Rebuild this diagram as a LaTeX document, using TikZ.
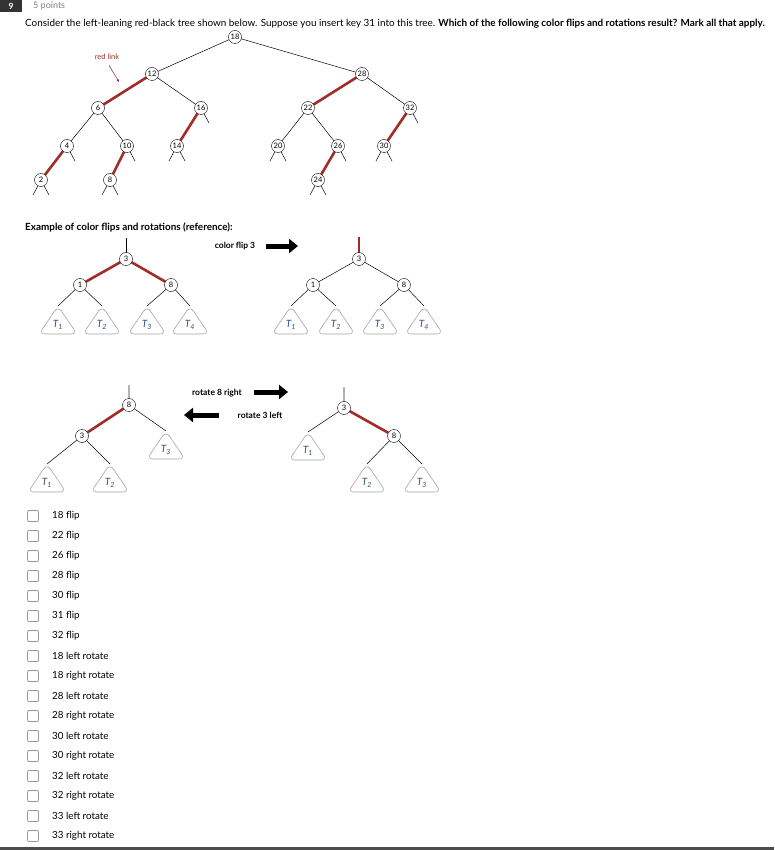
\documentclass[tikz,border=0pt]{standalone}
\usepackage{fontspec}
\setmainfont{Lato}
\usetikzlibrary{arrows.meta}
\definecolor{redlink}{RGB}{160,45,40}
\definecolor{tblue}{RGB}{40,80,130}
\tikzset{
  nd/.style={circle,draw,fill=white,inner sep=0pt,minimum size=13pt,font=\fontsize{7.5}{8}\selectfont},
  blk/.style={draw=black,line width=0.5pt},
  red/.style={draw=redlink,line width=2.6pt},
  gry/.style={draw=gray!60,line width=2pt},
  tri/.style={draw=gray!70,line width=0.6pt,rounded corners=6pt,fill=white},
  tl/.style={font=\fontsize{10}{11}\selectfont\itshape\color{tblue}},
  cb/.style={draw=gray!80,line width=0.6pt,rounded corners=1pt,minimum size=11pt,inner sep=0pt},
  opt/.style={anchor=west,font=\fontsize{9.8}{11}\selectfont,inner sep=0pt},
  lab/.style={font=\fontsize{8.5}{10}\selectfont\bfseries},
  bigarrow/.style={-{Triangle[length=9pt,width=14pt]},line width=5pt}
}
\newcommand{\subtree}[4]{% name, x, y, label
  \coordinate (#1) at (#2,#3-16);
  \draw[tri] (#2,#3-16) -- (#2+19,#3+12) -- (#2-19,#3+12) -- cycle;
  \node[tl] (#1l) at (#2,#3+3) {#4};}
\begin{document}
\begin{tikzpicture}[x=1pt,y=-1pt]
\useasboundingbox (0,0) rectangle (774,850);
\fill[white] (0,0) rectangle (774,850);
% header
\fill[black!80] (0,0) rectangle (22,12);
\node[white,font=\fontsize{8.5}{9}\selectfont\bfseries] (qn) at (11,6) {9};
\node[anchor=west,gray,font=\fontsize{9}{10}\selectfont,inner sep=0pt] (pts) at (33,6) {5 points};
\node[anchor=west,font=\fontsize{9.9}{11}\selectfont,inner sep=0pt] (q) at (25,24) {Consider the left-leaning red-black tree shown below. Suppose you insert key 31 into this tree. \textbf{Which of the following color flips and rotations result? Mark all that apply.}};
% main tree
\foreach \n/\x/\y in {18/235/37,12/152/74,28/362/74,6/98/108,16/201/108,22/308/108,32/410/108,4/67/146,10/127/146,14/177/146,20/278/146,26/338/146,30/384/146,2/41/180,8/110/180,24/318/180}
  \coordinate (p\n) at (\x,\y);
\foreach \a/\b in {18/12,18/28,12/16,28/32,6/4,6/10,22/20,22/26}
  \draw[blk] (p\a) -- (p\b);
\foreach \a/\b in {12/6,28/22,16/14,32/30,4/2,10/8,26/24}
  \draw[red] (p\a) -- (p\b);
% null links
\foreach \n in {14,20,30,2,8,24}{
  \draw[blk] (p\n) -- ++(-8,15); \draw[blk] (p\n) -- ++(8,15);}
\foreach \n in {16,32,4,10,26}
  \draw[blk] (p\n) -- ++(8,15);
\foreach \n in {18,12,28,6,16,22,32,4,10,14,20,26,30,2,8,24}
  \node[nd] (n\n) at (p\n) {\n};
\node[redlink,font=\fontsize{7.5}{8}\selectfont] (rl) at (107,57) {red link};
\coordinate (rla) at (119,82);
\draw[redlink!80!black,line width=0.5pt,-{Stealth[length=3pt]}] (rl.south) ++(2,2) -- (rla);
% example
\node[anchor=west,font=\fontsize{9.9}{11}\selectfont\bfseries,inner sep=0pt] (ex) at (25,227) {Example of color flips and rotations (reference):};
% tree A
\coordinate (a3) at (126,259); \coordinate (a1) at (80,285); \coordinate (a8) at (171,285);
\coordinate (atop) at (126,238);
\subtree{aT1}{58}{322}{T\textsubscript{1}}
\subtree{aT2}{102}{322}{T\textsubscript{2}}
\subtree{aT3}{147}{322}{T\textsubscript{3}}
\subtree{aT4}{190}{322}{T\textsubscript{4}}
\draw[blk] (atop) -- (a3);
\draw[red] (a3) -- (a1); \draw[red] (a3) -- (a8);
\draw[blk] (a1) -- (aT1); \draw[blk] (a1) -- (aT2); \draw[blk] (a8) -- (aT3); \draw[blk] (a8) -- (aT4);
\node[nd] (na3) at (a3) {3}; \node[nd] (na1) at (a1) {1}; \node[nd] (na8) at (a8) {8};
% tree B
\coordinate (b3) at (359,259); \coordinate (b1) at (313,285); \coordinate (b8) at (404,285);
\coordinate (btop) at (359,237);
\subtree{bT1}{291}{322}{T\textsubscript{1}}
\subtree{bT2}{336}{322}{T\textsubscript{2}}
\subtree{bT3}{380}{322}{T\textsubscript{3}}
\subtree{bT4}{424}{322}{T\textsubscript{4}}
\draw[red] (btop) -- (b3);
\draw[blk] (b3) -- (b1); \draw[blk] (b3) -- (b8);
\draw[blk] (b1) -- (bT1); \draw[blk] (b1) -- (bT2); \draw[blk] (b8) -- (bT3); \draw[blk] (b8) -- (bT4);
\node[nd] (nb3) at (b3) {3}; \node[nd] (nb1) at (b1) {1}; \node[nd] (nb8) at (b8) {8};
\node[lab] (cf) at (235,246) {color flip 3};
\coordinate (cfa) at (266,246); \coordinate (cfb) at (298,246);
\draw[bigarrow] (cfa) -- (cfb);
% tree C
\coordinate (c8) at (129,405); \coordinate (c3) at (82,436); \coordinate (ctop) at (129,385);
\subtree{cT1}{47}{480}{T\textsubscript{1}}
\subtree{cT2}{110}{480}{T\textsubscript{2}}
\subtree{cT3}{166}{447}{T\textsubscript{3}}
\draw[gry] (ctop) -- (c8);
\draw[red] (c8) -- (c3);
\draw[blk] (c8) -- (cT3); \draw[blk] (c3) -- (cT1); \draw[blk] (c3) -- (cT2);
\node[nd] (nc8) at (c8) {8}; \node[nd] (nc3) at (c3) {3};
% tree D
\coordinate (d3) at (344,408); \coordinate (d8) at (394,436); \coordinate (dtop) at (344,387);
\subtree{dT1}{308}{448}{T\textsubscript{1}}
\subtree{dT2}{367}{480}{T\textsubscript{2}}
\subtree{dT3}{422}{480}{T\textsubscript{3}}
\draw[gry] (dtop) -- (d3);
\draw[red] (d3) -- (d8);
\draw[blk] (d3) -- (dT1); \draw[blk] (d8) -- (dT2); \draw[blk] (d8) -- (dT3);
\node[nd] (nd3) at (d3) {3}; \node[nd] (nd8) at (d8) {8};
\node[lab] (r8) at (217,393) {rotate 8 right};
\coordinate (r8a) at (254,392); \coordinate (r8b) at (288,392);
\draw[bigarrow] (r8a) -- (r8b);
\node[lab] (r3) at (260,415) {rotate 3 left};
\coordinate (r3a) at (219,415); \coordinate (r3b) at (184,415);
\draw[bigarrow] (r3a) -- (r3b);
% options
\foreach [count=\i from 0] \t in {18 flip,22 flip,26 flip,28 flip,30 flip,31 flip,32 flip,18 left rotate,18 right rotate,28 left rotate,28 right rotate,30 left rotate,30 right rotate,32 left rotate,32 right rotate,33 left rotate,33 right rotate}{
  \node[cb] (box\i) at (33,516+20*\i) {};
  \node[opt] (opt\i) at (52,516+20*\i) {\t};}
\fill[black!70] (0,847) rectangle (774,850);
\end{tikzpicture}
\end{document}
